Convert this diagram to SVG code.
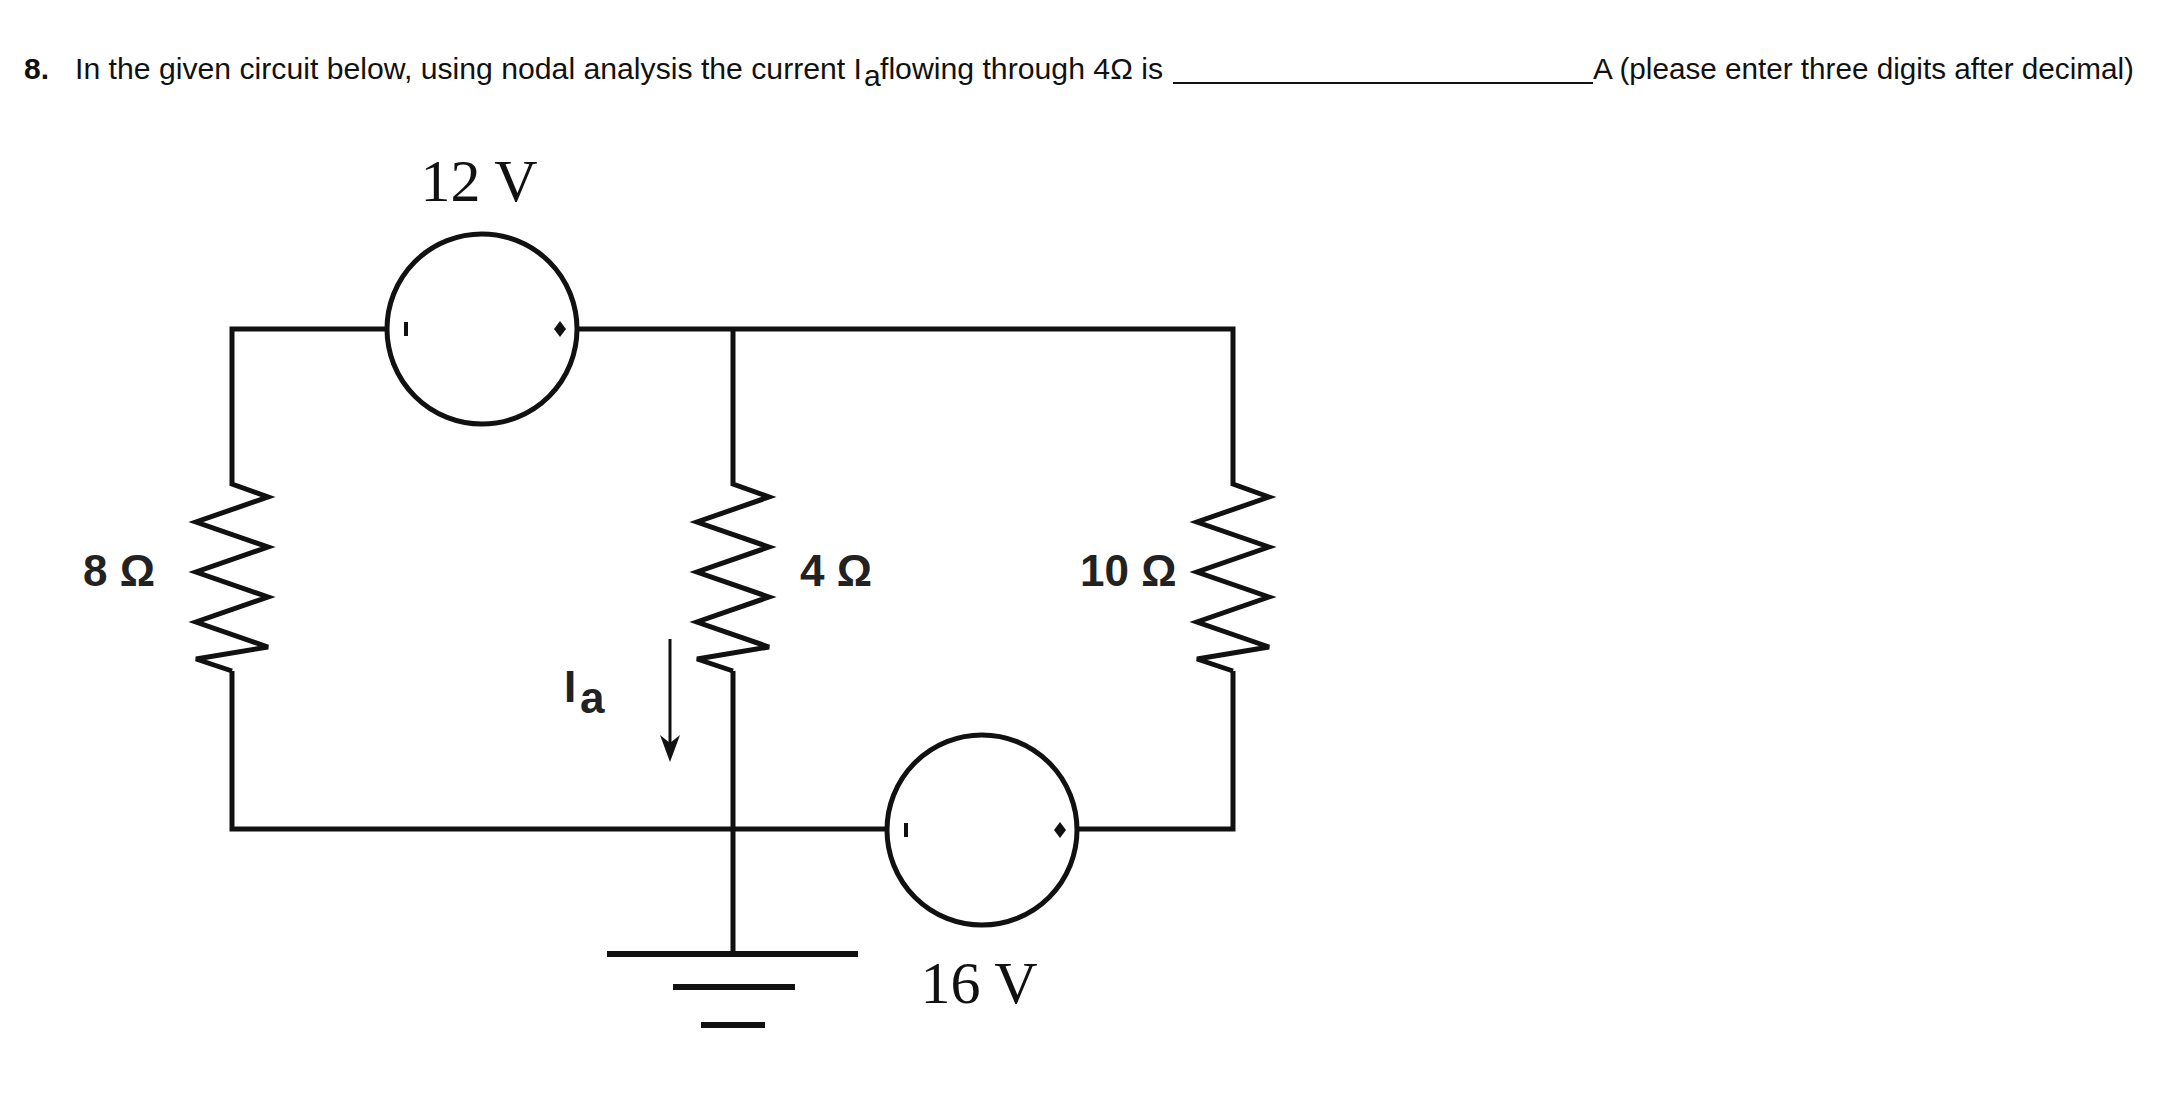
<svg xmlns="http://www.w3.org/2000/svg" width="2173" height="1100" viewBox="0 0 2173 1100">
<style>
.w{stroke:#111;stroke-width:5;fill:none;stroke-linejoin:miter}
.t{font-family:"Liberation Sans",Arial,sans-serif;font-size:30px;fill:#111}
.lbl{font-family:"Liberation Sans",Arial,sans-serif;font-size:44px;font-weight:bold;fill:#222}
.v{font-family:"Liberation Serif","Times New Roman",serif;font-size:60px;fill:#111}
</style>
<rect width="2173" height="1100" fill="#fff"/>
<g id="title">
<text class="t" x="24" y="79" font-weight="bold">8.</text>
<text class="t" x="75" y="79" textLength="787" lengthAdjust="spacingAndGlyphs">In the given circuit below, using nodal analysis the current I</text>
<text class="t" x="864" y="86" font-size="18">a</text>
<text class="t" x="880" y="79" textLength="283" lengthAdjust="spacingAndGlyphs">flowing through 4Ω is</text>
<line x1="1173" y1="83" x2="1593" y2="83" stroke="#111" stroke-width="2"/>
<text class="t" x="1593" y="79" textLength="541" lengthAdjust="spacingAndGlyphs">A (please enter three digits after decimal)</text>
</g>
<g id="wires">
<path class="w" d="M232 471 V329 H1233 V471"/>
<path class="w" d="M733 329 V471"/>
<path class="w" d="M232 671 V829 H1233 V671"/>
<path class="w" d="M733 671 V954"/>
</g>
<g id="R8">
<polyline class="w" points="232,471 232,484 268,497 196,522 268,547 196,572 268,597 196,622 268,647 196,659 232,671"/>
<text class="lbl" x="83" y="586">8 Ω</text>
</g>
<g id="R4">
<polyline class="w" points="733,471 733,484 769,497 697,522 769,547 697,572 769,597 697,622 769,647 697,659 733,671"/>
<text class="lbl" x="800" y="586">4 Ω</text>
</g>
<g id="R10">
<polyline class="w" points="1233,471 1233,484 1269,497 1197,522 1269,547 1197,572 1269,597 1197,622 1269,647 1197,659 1233,671"/>
<text class="lbl" x="1080" y="586">10 Ω</text>
</g>
<g id="V12">
<circle cx="482" cy="329" r="95" fill="#fff" stroke="#111" stroke-width="5"/>
<line x1="406" y1="322" x2="406" y2="336" stroke="#111" stroke-width="4"/>
<path d="M560 321 L566 329 L560 337 L554 329 Z" fill="#111"/>
<text class="v" x="479" y="201" text-anchor="middle">12 V</text>
</g>
<g id="V16">
<circle cx="982" cy="830" r="95" fill="#fff" stroke="#111" stroke-width="5"/>
<line x1="906" y1="823" x2="906" y2="837" stroke="#111" stroke-width="4"/>
<path d="M1060 822 L1066 830 L1060 838 L1054 830 Z" fill="#111"/>
<text class="v" x="979" y="1003" text-anchor="middle">16 V</text>
</g>
<g id="ground">
<line x1="607" y1="954" x2="858" y2="954" stroke="#111" stroke-width="6"/>
<line x1="673" y1="987" x2="795" y2="987" stroke="#111" stroke-width="6"/>
<line x1="701" y1="1025" x2="765" y2="1025" stroke="#111" stroke-width="6"/>
</g>
<g id="Ia">
<text class="lbl" x="564" y="702" font-size="40">I</text>
<text class="lbl" x="580" y="713" font-size="28">a</text>
<line x1="670" y1="639" x2="670" y2="745" stroke="#111" stroke-width="3"/>
<path d="M660 735 L670 762 L680 735 L670 743 Z" fill="#111"/>
</g>
</svg>
